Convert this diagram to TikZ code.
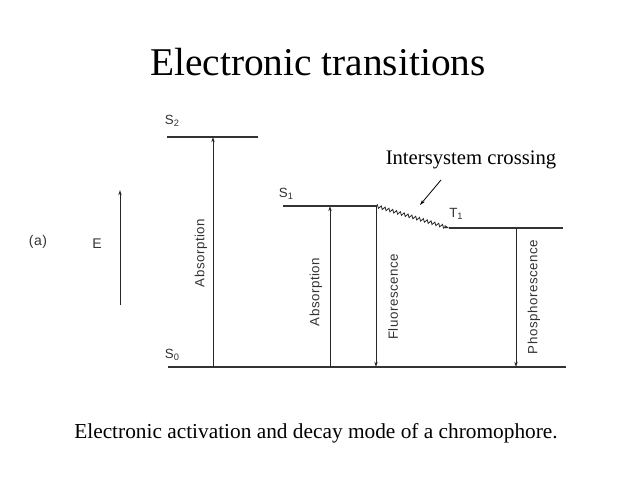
\documentclass[tikz,border=0pt]{standalone}
\usepackage{fontspec}
\setmainfont{Liberation Serif}
\newfontfamily\lab{Liberation Sans}[LetterSpace=4]
\usetikzlibrary{decorations.pathmorphing,arrows.meta}
\newcommand{\sbs}[1]{\raisebox{-0.35ex}{\fontsize{7}{8}\selectfont #1}}
\begin{document}
\begin{tikzpicture}[x=0.75pt,y=-0.75pt,
  lvl/.style={line width=0.9pt,black!80},
  tr/.style={line width=0.6pt,black!85,-{Stealth[length=4pt,width=2.5pt]}},
  lbl/.style={font=\lab\fontsize{10}{11}\selectfont,black!80},
  rl/.style={lbl,rotate=90}]
\useasboundingbox (0,0) rectangle (638,478);
\node (title) at (318,62) {\fontsize{29.5}{32}\selectfont Electronic transitions};
% levels
\coordinate (s2a) at (167,137); \coordinate (s2b) at (258,137);
\coordinate (s0a) at (168,367); \coordinate (s0b) at (566,367);
\coordinate (s1a) at (283,206); \coordinate (s1b) at (376,206);
\coordinate (t1a) at (449,228); \coordinate (t1b) at (563,228);
\draw[lvl] (s2a) -- (s2b);
\draw[lvl] (s0a) -- (s0b);
\draw[lvl] (s1a) -- (s1b);
\draw[lvl] (t1a) -- (t1b);
\node[lbl] (S2) at (172,121) {S\sbs{2}};
\node[lbl] (S0) at (172,355) {S\sbs{0}};
\node[lbl] (S1) at (286,194) {S\sbs{1}};
\node[lbl] (T1) at (456,214) {T\sbs{1}};
% transitions
\coordinate (a1b) at (213,367); \coordinate (a1t) at (213,137);
\draw[tr] (a1b) -- (a1t);
\node[rl] (la1) at (201,253) {Absorption};
\coordinate (a2b) at (330,367); \coordinate (a2t) at (330,206);
\draw[tr] (a2b) -- (a2t);
\node[rl] (la2) at (316,292) {Absorption};
\coordinate (fb) at (376,367);
\draw[tr] (s1b) -- (fb);
\node[rl] (lf) at (393,297) {Fluorescence};
\coordinate (pt) at (516,228); \coordinate (pb) at (516,367);
\draw[tr] (pt) -- (pb);
\node[rl] (lp) at (534,297) {Phosphorescence};
\draw[line width=0.6pt,black!85,decorate,decoration={zigzag,segment length=3pt,amplitude=1.2pt,post length=3pt},-{Stealth[length=4pt,width=2.5pt]}] (s1b) -- (t1a);
% ISC
\node (isc) at (471,160) {\fontsize{15.5}{17}\selectfont Intersystem crossing};
\coordinate (ia) at (441,180); \coordinate (ib) at (420,205);
\draw[line width=0.6pt,-{Stealth[length=4pt,width=2.5pt]}] (ia) -- (ib);
% E axis
\node[lbl,font=\lab\fontsize{10.5}{11}\selectfont] (a) at (38,242) {(a)};
\node[lbl,font=\lab\fontsize{10.5}{11}\selectfont] (E) at (97,244) {E};
\coordinate (eb) at (120,305); \coordinate (et) at (120,190);
\draw[tr] (eb) -- (et);
\node (cap) at (316,433) {\fontsize{16}{18}\selectfont Electronic activation and decay mode of a chromophore.};
\end{tikzpicture}
\end{document}
